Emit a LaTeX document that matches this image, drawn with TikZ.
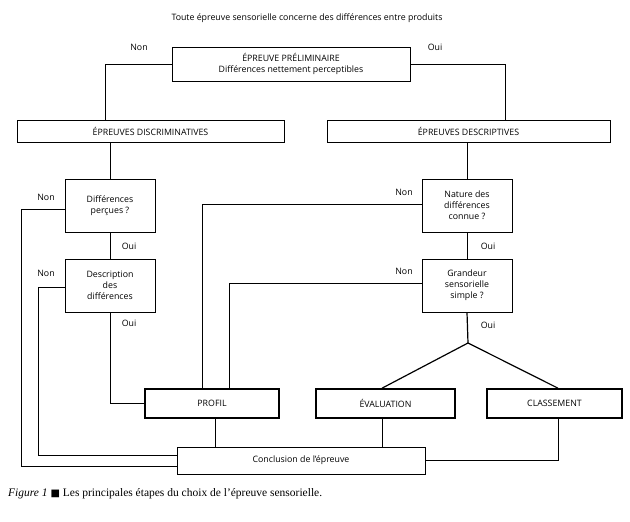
\documentclass[tikz,border=0pt]{standalone}
\usepackage{fontspec}
\setmainfont{Liberation Serif}
\setsansfont{Open Sans}
\newfontfamily\dejavu{DejaVu Sans}
\begin{document}
\begin{tikzpicture}[x=1pt,y=-1pt,
  bx/.style={draw,line width=0.6pt,inner sep=0pt,font=\sffamily\fontsize{8.8}{11}\selectfont,align=center},
  tk/.style={draw,line width=1.6pt,inner sep=0pt,font=\sffamily\fontsize{8.8}{11}\selectfont},
  lb/.style={font=\sffamily\fontsize{8.8}{10}\selectfont,inner sep=1pt},
  ln/.style={line width=0.6pt}]
\useasboundingbox (0,0) rectangle (630,522);
\node[lb] (title) at (307,18) {Toute épreuve sensorielle concerne des différences entre produits};
\node[bx,minimum width=238pt,minimum height=34pt] (pre) at (291,64) {ÉPREUVE PRÉLIMINAIRE\\Différences nettement perceptibles};
\node[bx,minimum width=267pt,minimum height=22pt] (dis) at (150.5,131) {ÉPREUVES DISCRIMINATIVES};
\node[bx,minimum width=283pt,minimum height=22pt] (des) at (468.5,131) {ÉPREUVES DESCRIPTIVES};
\node[bx,minimum width=90pt,minimum height=53pt] (dp) at (110,205.5) {Différences\\perçues ?};
\node[bx,minimum width=90pt,minimum height=53pt] (dd) at (110,285.5) {Description\\des\\différences};
\node[bx,minimum width=90pt,minimum height=53pt] (na) at (467,205.5) {Nature des\\différences\\connue ?};
\node[bx,minimum width=90pt,minimum height=53pt] (gr) at (467,285.5) {Grandeur\\sensorielle\\simple ?};
\node[tk,minimum width=134pt,minimum height=29pt] (pr) at (212,403.5) {PROFIL};
\node[tk,minimum width=139pt,minimum height=29pt] (ev) at (385.5,403.5) {ÉVALUATION};
\node[tk,minimum width=135pt,minimum height=29pt] (cl) at (554.5,403.5) {CLASSEMENT};
\node[bx,minimum width=248pt,minimum height=27pt] (co) at (301,460.5) {Conclusion de l’épreuve};
\node[lb] at (139,47) {Non};
\node[lb] at (435,47) {Oui};
\node[lb] at (46,197) {Non};
\node[lb] at (46,273) {Non};
\node[lb] at (404,192) {Non};
\node[lb] at (404,271) {Non};
\node[lb] at (129,246) {Oui};
\node[lb] at (129,323) {Oui};
\node[lb] at (488,246) {Oui};
\node[lb] at (488,325) {Oui};
\coordinate (fork) at (468,343);
\draw[ln] (pre.west) -| (dis.north -| 105,0);
\draw[ln] (pre.east) -| (des.north -| 505,0);
\draw[ln] (dis.south -| dp.north) -- (dp.north);
\draw[ln] (dp) -- (dd);
\draw[ln] (dp.west |- 0,209) -| (21,466) -- (co.west |- 0,466);
\draw[ln] (dd.west |- 0,287) -| (38,455) -- (co.west |- 0,455);
\draw[ln] (dd.south) |- (pr.west);
\draw[ln] (des.south -| na.north) -- (na.north);
\draw[ln] (na) -- (gr);
\draw[ln] (na.west |- 0,204) -| (pr.north -| 202,0);
\draw[ln] (gr.west |- 0,283) -| (pr.north -| 229,0);
\draw[line width=1.2pt] (gr.south) -- (fork) -- (ev.north -| 382,0);
\draw[line width=1.2pt] (fork) -- (cl.north -| 558,0);
\draw[ln] (pr.south -| 215,0) -- (co.north -| 215,0);
\draw[ln] (ev.south -| 382,0) -- (co.north -| 382,0);
\draw[ln] (cl.south -| 558,0) |- (co.east |- 0,460);
\node[anchor=west,inner sep=0pt,font=\fontsize{11.5}{13}\selectfont] (cap) at (8,494) {\textit{Figure 1} {\dejavu\fontsize{10}{12}\selectfont ■} Les principales étapes du choix de l’épreuve sensorielle.};
\end{tikzpicture}
\end{document}
